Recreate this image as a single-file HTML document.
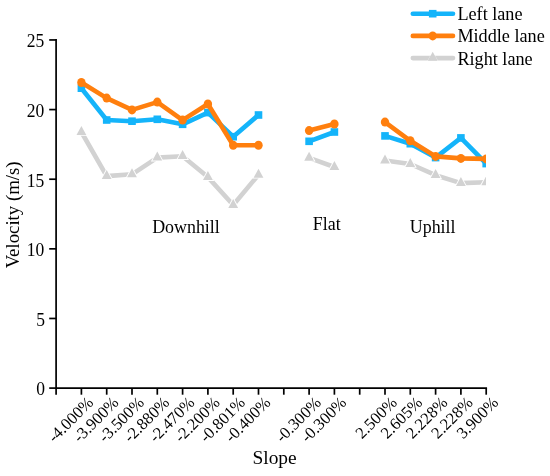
<!DOCTYPE html>
<html><head><meta charset="utf-8"><title>Velocity vs slope</title>
<style>
html,body{margin:0;padding:0;background:#fff;}
body{width:550px;height:476px;overflow:hidden;}
svg{display:block;}
text{font-family:"Liberation Serif","Times New Roman",serif;fill:#000;}
</style></head><body>
<svg width="550" height="476" viewBox="0 0 550 476">
<defs><clipPath id="clip"><rect x="50" y="30" width="436.1" height="360"/></clipPath></defs>
<rect width="550" height="476" fill="#fff"/>
<g clip-path="url(#clip)">
<polyline fill="none" stroke="#14b4fa" stroke-width="4.6" stroke-linejoin="round" stroke-linecap="round" points="81.4,88.2 106.7,120.0 132.0,121.2 157.3,119.3 182.6,124.3 207.9,112.6 233.2,136.7 258.5,115.0"/>
<rect x="77.6" y="84.4" width="7.6" height="7.6" fill="#14b4fa"/>
<rect x="102.9" y="116.2" width="7.6" height="7.6" fill="#14b4fa"/>
<rect x="128.2" y="117.4" width="7.6" height="7.6" fill="#14b4fa"/>
<rect x="153.5" y="115.5" width="7.6" height="7.6" fill="#14b4fa"/>
<rect x="178.8" y="120.5" width="7.6" height="7.6" fill="#14b4fa"/>
<rect x="204.1" y="108.8" width="7.6" height="7.6" fill="#14b4fa"/>
<rect x="229.4" y="132.9" width="7.6" height="7.6" fill="#14b4fa"/>
<rect x="254.7" y="111.2" width="7.6" height="7.6" fill="#14b4fa"/>
<polyline fill="none" stroke="#14b4fa" stroke-width="4.6" stroke-linejoin="round" stroke-linecap="round" points="309.1,141.3 334.4,132.0"/>
<rect x="305.3" y="137.5" width="7.6" height="7.6" fill="#14b4fa"/>
<rect x="330.6" y="128.2" width="7.6" height="7.6" fill="#14b4fa"/>
<polyline fill="none" stroke="#14b4fa" stroke-width="4.6" stroke-linejoin="round" stroke-linecap="round" points="385.0,135.9 410.3,143.7 435.6,157.6 460.9,137.9 486.2,163.6"/>
<rect x="381.2" y="132.1" width="7.6" height="7.6" fill="#14b4fa"/>
<rect x="406.5" y="139.9" width="7.6" height="7.6" fill="#14b4fa"/>
<rect x="431.8" y="153.8" width="7.6" height="7.6" fill="#14b4fa"/>
<rect x="457.1" y="134.1" width="7.6" height="7.6" fill="#14b4fa"/>
<rect x="482.4" y="159.8" width="7.6" height="7.6" fill="#14b4fa"/>
<polyline fill="none" stroke="#ff7f0e" stroke-width="4.6" stroke-linejoin="round" stroke-linecap="round" points="81.4,82.5 106.7,98.1 132.0,109.9 157.3,102.1 182.6,120.1 207.9,104.0 233.2,145.3 258.5,145.3"/>
<ellipse cx="81.4" cy="82.5" rx="4.2" ry="4.5" fill="#ff7f0e"/>
<ellipse cx="106.7" cy="98.1" rx="4.2" ry="4.5" fill="#ff7f0e"/>
<ellipse cx="132.0" cy="109.9" rx="4.2" ry="4.5" fill="#ff7f0e"/>
<ellipse cx="157.3" cy="102.1" rx="4.2" ry="4.5" fill="#ff7f0e"/>
<ellipse cx="182.6" cy="120.1" rx="4.2" ry="4.5" fill="#ff7f0e"/>
<ellipse cx="207.9" cy="104.0" rx="4.2" ry="4.5" fill="#ff7f0e"/>
<ellipse cx="233.2" cy="145.3" rx="4.2" ry="4.5" fill="#ff7f0e"/>
<ellipse cx="258.5" cy="145.3" rx="4.2" ry="4.5" fill="#ff7f0e"/>
<polyline fill="none" stroke="#ff7f0e" stroke-width="4.6" stroke-linejoin="round" stroke-linecap="round" points="309.1,130.6 334.4,124.0"/>
<ellipse cx="309.1" cy="130.6" rx="4.2" ry="4.5" fill="#ff7f0e"/>
<ellipse cx="334.4" cy="124.0" rx="4.2" ry="4.5" fill="#ff7f0e"/>
<polyline fill="none" stroke="#ff7f0e" stroke-width="4.6" stroke-linejoin="round" stroke-linecap="round" points="385.0,122.1 410.3,140.8 435.6,156.4 460.9,158.4 486.2,158.9"/>
<ellipse cx="385.0" cy="122.1" rx="4.2" ry="4.5" fill="#ff7f0e"/>
<ellipse cx="410.3" cy="140.8" rx="4.2" ry="4.5" fill="#ff7f0e"/>
<ellipse cx="435.6" cy="156.4" rx="4.2" ry="4.5" fill="#ff7f0e"/>
<ellipse cx="460.9" cy="158.4" rx="4.2" ry="4.5" fill="#ff7f0e"/>
<ellipse cx="486.2" cy="158.9" rx="4.2" ry="4.5" fill="#ff7f0e"/>
<polyline fill="none" stroke="#d2d2d2" stroke-width="4.6" stroke-linejoin="round" stroke-linecap="round" points="81.4,132.0 106.7,176.1 132.0,174.3 157.3,157.6 182.6,156.2 207.9,177.1 233.2,205.0 258.5,174.8"/>
<polygon points="81.4,125.9 86.3,134.9 76.5,134.9" fill="#d2d2d2" stroke="#fff" stroke-width="1.8" paint-order="stroke"/>
<polygon points="106.7,170.0 111.6,179.0 101.8,179.0" fill="#d2d2d2" stroke="#fff" stroke-width="1.8" paint-order="stroke"/>
<polygon points="132.0,168.2 136.9,177.2 127.1,177.2" fill="#d2d2d2" stroke="#fff" stroke-width="1.8" paint-order="stroke"/>
<polygon points="157.3,151.5 162.2,160.5 152.4,160.5" fill="#d2d2d2" stroke="#fff" stroke-width="1.8" paint-order="stroke"/>
<polygon points="182.6,150.1 187.5,159.1 177.7,159.1" fill="#d2d2d2" stroke="#fff" stroke-width="1.8" paint-order="stroke"/>
<polygon points="207.9,171.0 212.8,180.0 203.0,180.0" fill="#d2d2d2" stroke="#fff" stroke-width="1.8" paint-order="stroke"/>
<polygon points="233.2,198.9 238.1,207.9 228.3,207.9" fill="#d2d2d2" stroke="#fff" stroke-width="1.8" paint-order="stroke"/>
<polygon points="258.5,168.7 263.4,177.7 253.6,177.7" fill="#d2d2d2" stroke="#fff" stroke-width="1.8" paint-order="stroke"/>
<polyline fill="none" stroke="#d2d2d2" stroke-width="4.6" stroke-linejoin="round" stroke-linecap="round" points="309.1,157.8 334.4,167.0"/>
<polygon points="309.1,151.7 314.0,160.7 304.2,160.7" fill="#d2d2d2" stroke="#fff" stroke-width="1.8" paint-order="stroke"/>
<polygon points="334.4,160.9 339.3,169.9 329.5,169.9" fill="#d2d2d2" stroke="#fff" stroke-width="1.8" paint-order="stroke"/>
<polyline fill="none" stroke="#d2d2d2" stroke-width="4.6" stroke-linejoin="round" stroke-linecap="round" points="385.0,160.5 410.3,164.0 435.6,175.2 460.9,183.1 486.2,182.3"/>
<polygon points="385.0,154.4 389.9,163.4 380.1,163.4" fill="#d2d2d2" stroke="#fff" stroke-width="1.8" paint-order="stroke"/>
<polygon points="410.3,157.9 415.2,166.9 405.4,166.9" fill="#d2d2d2" stroke="#fff" stroke-width="1.8" paint-order="stroke"/>
<polygon points="435.6,169.1 440.5,178.1 430.7,178.1" fill="#d2d2d2" stroke="#fff" stroke-width="1.8" paint-order="stroke"/>
<polygon points="460.9,177.0 465.8,186.0 456.0,186.0" fill="#d2d2d2" stroke="#fff" stroke-width="1.8" paint-order="stroke"/>
<polygon points="486.2,176.2 491.1,185.2 481.3,185.2" fill="#d2d2d2" stroke="#fff" stroke-width="1.8" paint-order="stroke"/>
</g>
<g stroke="#000" stroke-width="1.7" fill="none" stroke-linecap="butt">
<path d="M56.10 39.10 V388.10 H487.05"/>
<path d="M49.2 388.10 H56.10"/>
<path d="M49.2 318.47 H56.10"/>
<path d="M49.2 248.84 H56.10"/>
<path d="M49.2 179.21 H56.10"/>
<path d="M49.2 109.58 H56.10"/>
<path d="M49.2 39.95 H56.10"/>
<path d="M56.10 388.10 V394.7"/>
<path d="M81.40 388.10 V394.7"/>
<path d="M106.70 388.10 V394.7"/>
<path d="M132.00 388.10 V394.7"/>
<path d="M157.30 388.10 V394.7"/>
<path d="M182.60 388.10 V394.7"/>
<path d="M207.90 388.10 V394.7"/>
<path d="M233.20 388.10 V394.7"/>
<path d="M258.50 388.10 V394.7"/>
<path d="M283.80 388.10 V394.7"/>
<path d="M309.10 388.10 V394.7"/>
<path d="M334.40 388.10 V394.7"/>
<path d="M359.70 388.10 V394.7"/>
<path d="M385.00 388.10 V394.7"/>
<path d="M410.30 388.10 V394.7"/>
<path d="M435.60 388.10 V394.7"/>
<path d="M460.90 388.10 V394.7"/>
<path d="M486.20 388.10 V394.7"/>
</g>
<line x1="412.8" x2="453" y1="13.7" y2="13.7" stroke="#14b4fa" stroke-width="4.6" stroke-linecap="round"/>
<rect x="428.9" y="9.9" width="7.6" height="7.6" fill="#14b4fa"/>
<line x1="412.8" x2="453" y1="35.9" y2="35.9" stroke="#ff7f0e" stroke-width="4.6" stroke-linecap="round"/>
<ellipse cx="432.7" cy="35.9" rx="4.2" ry="4.5" fill="#ff7f0e"/>
<line x1="412.8" x2="453" y1="58.1" y2="58.1" stroke="#d2d2d2" stroke-width="4.6" stroke-linecap="round"/>
<polygon points="432.7,51.8 437.6,60.8 427.8,60.8" fill="#d2d2d2" stroke="#fff" stroke-width="0.5" paint-order="stroke"/>
<text transform="translate(44.9,395.4) scale(0.885,1)" text-anchor="end" font-size="19.8">0</text>
<text transform="translate(44.9,325.8) scale(0.885,1)" text-anchor="end" font-size="19.8">5</text>
<text transform="translate(44.3,256.1) scale(0.885,1)" text-anchor="end" font-size="19.8">10</text>
<text transform="translate(44.3,186.5) scale(0.885,1)" text-anchor="end" font-size="19.8">15</text>
<text transform="translate(44.3,116.9) scale(0.885,1)" text-anchor="end" font-size="19.8">20</text>
<text transform="translate(44.3,47.3) scale(0.885,1)" text-anchor="end" font-size="19.8">25</text>
<text transform="translate(94.3,403.5) rotate(-45)" text-anchor="end" font-size="16.5">-4.000%</text>
<text transform="translate(119.6,403.5) rotate(-45)" text-anchor="end" font-size="16.5">-3.900%</text>
<text transform="translate(144.9,403.5) rotate(-45)" text-anchor="end" font-size="16.5">-3.500%</text>
<text transform="translate(170.2,403.5) rotate(-45)" text-anchor="end" font-size="16.5">-2.880%</text>
<text transform="translate(195.5,403.5) rotate(-45)" text-anchor="end" font-size="16.5">-2.470%</text>
<text transform="translate(220.8,403.5) rotate(-45)" text-anchor="end" font-size="16.5">-2.200%</text>
<text transform="translate(246.1,403.5) rotate(-45)" text-anchor="end" font-size="16.5">-0.801%</text>
<text transform="translate(271.4,403.5) rotate(-45)" text-anchor="end" font-size="16.5">-0.400%</text>
<text transform="translate(322.0,403.5) rotate(-45)" text-anchor="end" font-size="16.5">-0.300%</text>
<text transform="translate(347.3,403.5) rotate(-45)" text-anchor="end" font-size="16.5">-0.300%</text>
<text transform="translate(397.9,403.5) rotate(-45)" text-anchor="end" font-size="16.5">2.500%</text>
<text transform="translate(423.2,403.5) rotate(-45)" text-anchor="end" font-size="16.5">2.605%</text>
<text transform="translate(448.5,403.5) rotate(-45)" text-anchor="end" font-size="16.5">2.228%</text>
<text transform="translate(473.8,403.5) rotate(-45)" text-anchor="end" font-size="16.5">2.228%</text>
<text transform="translate(499.1,403.5) rotate(-45)" text-anchor="end" font-size="16.5">3.900%</text>
<text transform="translate(18.5,214.9) rotate(-90)" text-anchor="middle" font-size="18.8">Velocity (m/s)</text>
<text x="274.6" y="463.7" text-anchor="middle" font-size="19.4">Slope</text>
<text x="152.2" y="232.7" font-size="17.9">Downhill</text>
<text x="312.8" y="230.2" font-size="17.9">Flat</text>
<text x="409.8" y="232.7" font-size="17.9">Uphill</text>
<text x="457.4" y="20.2" font-size="18.2">Left lane</text>
<text x="457.4" y="42.4" font-size="18.2">Middle lane</text>
<text x="457.4" y="64.6" font-size="18.2">Right lane</text>
</svg>
</body></html>
